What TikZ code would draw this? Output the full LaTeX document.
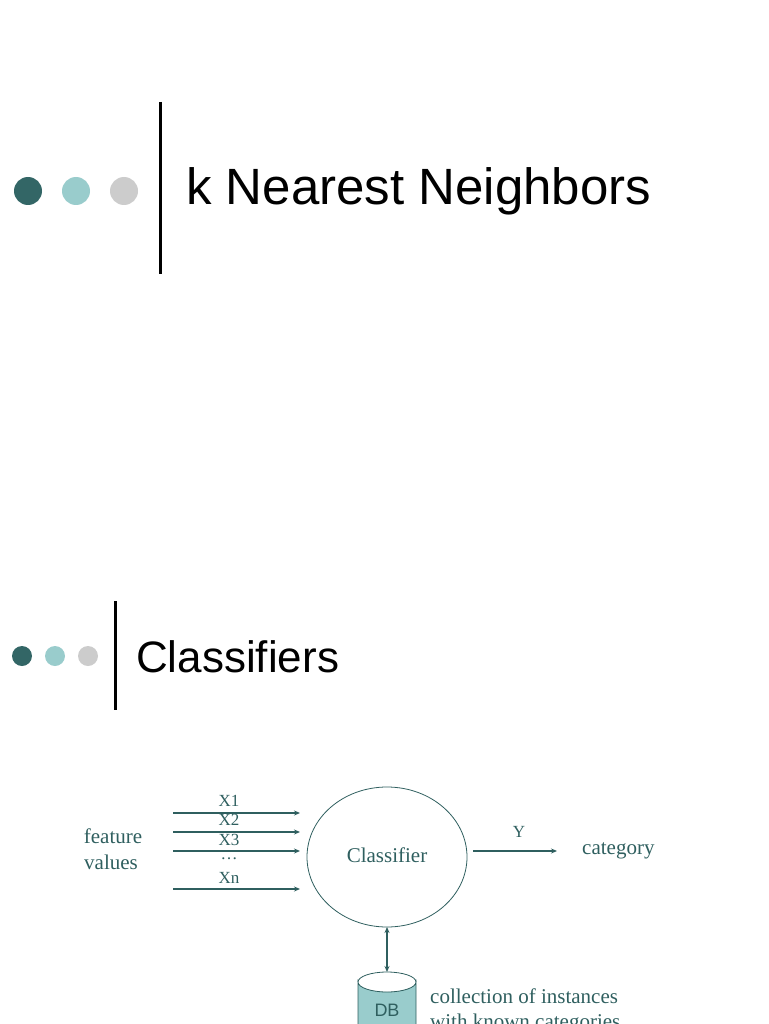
\documentclass[tikz,border=0pt]{standalone}
\usepackage{fontspec}
\usetikzlibrary{shapes.geometric,arrows.meta}
\setmainfont{Liberation Serif}
\newfontfamily\hel{Liberation Sans}
\definecolor{dteal}{HTML}{336666}
\definecolor{lteal}{HTML}{99CCCC}
\definecolor{lgray}{HTML}{CCCCCC}
\definecolor{dtext}{HTML}{2F5F5F}
\begin{document}
\begin{tikzpicture}[x=1pt,y=-1pt,
  lbl/.style={text=dtext,font=\fontsize{21}{21}\selectfont,inner sep=0},
  xl/.style={text=dtext,font=\fontsize{17}{17}\selectfont,inner sep=0},
  arr/.style={draw=dtext,line width=1.2pt,-{Stealth[length=6pt,width=5pt]}}]
\useasboundingbox (0,0) rectangle (768,1024);
% slide 1
\fill[dteal] (28,191) circle (14);
\fill[lteal] (76,191) circle (14);
\fill[lgray] (124,191) circle (14);
\draw[line width=3pt] (160,102) -- (160,274);
\node[anchor=west,inner sep=0,font=\hel\fontsize{51}{51}\selectfont] (t1) at (186,191) {k Nearest Neighbors};
% slide 2
\fill[dteal] (22,656) circle (10);
\fill[lteal] (55,656) circle (10);
\fill[lgray] (88,656) circle (10);
\draw[line width=3pt] (115,601) -- (115,710);
\node[anchor=west,inner sep=0,font=\hel\fontsize{44}{44}\selectfont] (t2) at (136,657) {Classifiers};
% diagram
\node[draw=dtext,line width=0.8pt,ellipse,minimum width=160,minimum height=140,inner sep=0] (cl) at (387,857) {};
\node[lbl] at (387,855) {Classifier};
\foreach \y/\n in {813/a,832/b,851/c,889/d}{
  \coordinate (s\n) at (173,\y); \coordinate (e\n) at (300,\y);
  \draw[arr] (s\n) -- (e\n);}
\node[xl] (x1) at (229,801) {X1};
\node[xl] (x2) at (229,820) {X2};
\node[xl] (x3) at (229,840) {X3};
\node[xl] (xd) at (229,859) {\dots};
\node[xl] (xn) at (229,878) {Xn};
\node[lbl] (fv1) at (113,836) {feature};
\node[lbl] (fv2) at (111,862) {values};
\coordinate (ys) at (473,851);
\node[lbl,anchor=west] (cat) at (582,851) {category};
\draw[arr] (ys) -- (557,851);
\node[xl] (yl) at (519,832) {Y};
% DB cylinder
\fill[lteal] (358,982) -- (358,1030) -- (416,1030) -- (416,982) arc (0:180:29 and 10);
\draw[dtext,line width=0.8pt] (358,1030) -- (358,982) arc (180:0:29 and 10) -- (416,1030);
\draw[dtext,line width=0.8pt] (358,982) arc (180:360:29 and 10);
\coordinate (dbtop) at (387,972);
\coordinate (cbot) at (387,927);
\draw[draw=dtext,line width=1.2pt,{Stealth[length=6pt,width=5pt]}-{Stealth[length=6pt,width=5pt]}] (cbot) -- (dbtop);
\node[text=dtext,font=\hel\fontsize{18}{18}\selectfont,inner sep=0] (db) at (387,1010) {DB};
\node[lbl,anchor=west] (c1) at (430,996) {collection of instances};
\node[lbl,anchor=west] (c2) at (430,1023) {with known categories};
\end{tikzpicture}
\end{document}
